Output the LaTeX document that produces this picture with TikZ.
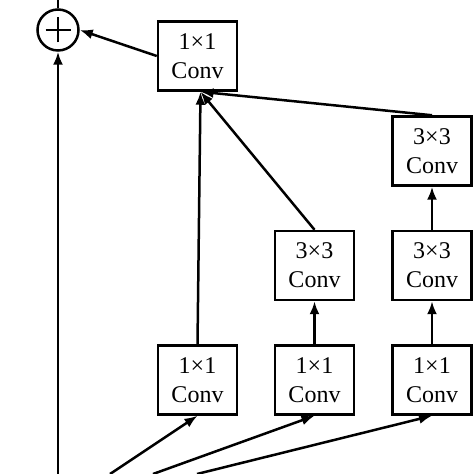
\documentclass[tikz,border=0pt]{standalone}
\usepackage{fontspec}
\setmainfont{Liberation Serif}
\usetikzlibrary{arrows.meta,calc}
\begin{document}
\begin{tikzpicture}[x=1pt,y=1pt,
  convbox/.style={draw, line width=2.5pt, minimum width=79pt, minimum height=69pt, inner sep=0pt,
    align=center, font=\fontsize{24}{29}\selectfont},
  conn/.style={line width=2.5pt, -{Latex[length=13pt,width=10pt]}},
  plain/.style={line width=2.5pt}]
\useasboundingbox (0,0) rectangle (474,474);
\node[draw, circle, line width=2.5pt, minimum size=41pt, inner sep=0pt] (add) at (58,444) {};
\draw[line width=2.8pt] ($(add.center)+(-12.5,0)$) -- ($(add.center)+(12.5,0)$);
\draw[line width=2.8pt] ($(add.center)+(0,-12.5)$) -- ($(add.center)+(0,12.5)$);
\node[convbox] (top) at (197.5,418) {1×1\\Conv};
\node[convbox] (tr) at (432,323) {3×3\\Conv};
\node[convbox] (m2) at (314.5,208.5) {3×3\\Conv};
\node[convbox] (m3) at (432,208.5) {3×3\\Conv};
\node[convbox] (b1) at (197.5,94) {1×1\\Conv};
\node[convbox] (b2) at (314.5,94) {1×1\\Conv};
\node[convbox] (b3) at (432,94) {1×1\\Conv};
\coordinate (in) at (58,0);
\coordinate (out) at (58,474);
\coordinate (s1) at (110,0);
\coordinate (s2) at (153,0);
\coordinate (s3) at (197,0);
\coordinate (join) at ($(top.south)+(3,0)$);
\draw[conn] (in) -- (add.south);
\draw[plain] (add.north) -- (out);
\draw[conn] (top.west) -- (add.east);
\draw[conn] (s1) -- (b1.south);
\draw[conn] (s2) -- (b2.south);
\draw[conn] (s3) -- (b3.south);
\draw[conn] (b1.north) -- (join);
\draw[conn] (b2.north) -- (m2.south);
\draw[conn] (b3.north) -- (m3.south);
\draw[conn] (m3.north) -- (tr.south);
\draw[conn] (m2.north) -- (join);
\draw[conn] (tr.north) -- (join);
\end{tikzpicture}
\end{document}
